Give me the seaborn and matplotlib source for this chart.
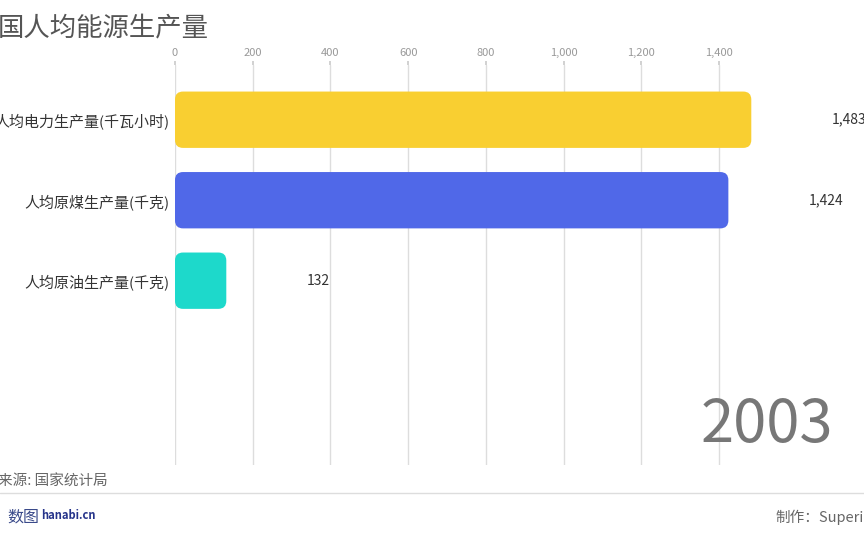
import matplotlib
matplotlib.use("Agg")
import matplotlib.pyplot as plt
from matplotlib.patches import FancyBboxPatch
import seaborn as sns
import pandas as pd

# data (year 2003)
categories = ["人均电力生产量(千瓦小时)", "人均原煤生产量(千克)", "人均原油生产量(千克)"]
values = [1483, 1424, 132]
bar_colors = ["#F9CF31", "#5068E8", "#1DD9CB"]
year = "2003"
xticks = [0, 200, 400, 600, 800, 1000, 1200, 1400]

df = pd.DataFrame({"name": categories, "value": values})

sns.set_theme(style="white")
plt.rcParams['font.family'] = ['Noto Sans CJK SC', 'DejaVu Sans']

fig = plt.figure(figsize=(8.64, 5.4), dpi=100)
# axes from x=175px to right edge, y from 65px to 465px
ax = fig.add_axes([175 / 864, (540 - 465) / 540, (864 - 175) / 864, 400 / 540])

sns.barplot(data=df, x="value", y="name", hue="name", palette=bar_colors,
            orient="h", width=0.7, saturation=1, legend=False, ax=ax)

xmax = (864 - 175) / 0.3886
ax.set_xlim(0, xmax)
ax.set_ylim(4.29, -0.68)

# swap plain bars for rounded ones
px_x = 0.3886
px_y = 80.5
for p in list(ax.patches):
    x0, y0 = p.get_x(), p.get_y()
    w, h = p.get_width(), p.get_height()
    fc = p.get_facecolor()
    p.remove()
    r = 8 / px_x
    rb = FancyBboxPatch((x0, y0), w, h,
                        boxstyle=f"round,pad=0,rounding_size={r}",
                        mutation_aspect=(8 / px_y) / r,
                        fc=fc, ec="none", zorder=3)
    ax.add_patch(rb)

for i, v in enumerate(values):
    ax.text(v + 80 / px_x, i, f"{v:,}", ha="left", va="center",
            fontsize=10, color="#333333")

ax.xaxis.tick_top()
ax.set_xticks(xticks)
ax.set_xticklabels([f"{t:,}" for t in xticks], fontsize=8, color="#999999")
ax.tick_params(axis="x", length=3, color="#cccccc", pad=2)
ax.tick_params(axis="y", length=0, labelsize=10.8, labelcolor="#333333", pad=4)
for t in xticks:
    ax.axvline(t, color="#dddddd", lw=1, zorder=0)
ax.set_xlabel("")
ax.set_ylabel("")
for s in ax.spines.values():
    s.set_visible(False)

fig.text(0.888, 0.212, year, ha="center", va="center",
         fontsize=43, color="#777777")

fig.text(-0.003, 0.948, "国人均能源生产量", ha="left", va="center",
         fontsize=19, color="#555555")
fig.text(-0.002, 0.107, "来源: 国家统计局", ha="left", va="center",
         fontsize=10.5, color="#666666")
fig.add_artist(plt.Line2D([0, 1], [0.087, 0.087], transform=fig.transFigure,
                          color="#dddddd", lw=1))
fig.text(0.008, 0.042, "数图", ha="left", va="center", fontsize=11.5, color="#3a4a8a")
fig.text(0.048, 0.045, "hanabi.cn", ha="left", va="center", fontsize=8,
         color="#25338a", fontweight="bold")
fig.text(0.897, 0.042, "制作：Superi", ha="left", va="center",
         fontsize=10.5, color="#666666")

fig.savefig("out.png", dpi=100)
